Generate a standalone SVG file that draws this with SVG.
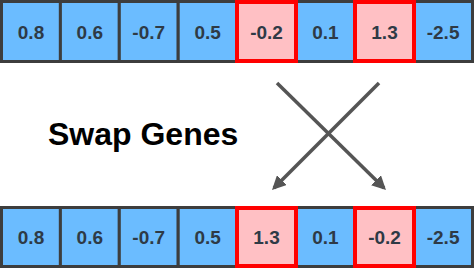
<svg xmlns="http://www.w3.org/2000/svg" width="474" height="269" viewBox="0 0 474 269">
<style>
.c{fill:#6bbcff;stroke:#3d3d3d;stroke-width:3}
.r{fill:#ffc0c4;stroke:#ff0000;stroke-width:4}
.t{font-family:"Liberation Sans",Arial,sans-serif;font-weight:bold;font-size:19px;fill:#2e3a46;text-anchor:middle}
.lbl{font-family:"Liberation Sans",Arial,sans-serif;font-weight:bold;font-size:32px;fill:#000}
.a{stroke:#555;stroke-width:3.5;fill:none}
</style>
<defs>
<marker id="ah" viewBox="0 0 10 10" refX="8" refY="5" markerWidth="4" markerHeight="4" orient="auto" markerUnits="strokeWidth">
<path d="M0,0 L10,5 L0,10 z" fill="#555"/>
</marker>
</defs>
<g id="top-row">
<g id="t0"><rect class="c" x="1.5" y="1.5" width="58.9" height="60"/><text class="t" x="31" y="38.5">0.8</text></g>
<g id="t1"><rect class="c" x="60.4" y="1.5" width="58.9" height="60"/><text class="t" x="89.8" y="38.5">0.6</text></g>
<g id="t2"><rect class="c" x="119.3" y="1.5" width="58.9" height="60"/><text class="t" x="148.7" y="38.5">-0.7</text></g>
<g id="t3"><rect class="c" x="178.2" y="1.5" width="58.9" height="60"/><text class="t" x="207.6" y="38.5">0.5</text></g>
<g id="t5"><rect class="c" x="296" y="1.5" width="58.9" height="60"/><text class="t" x="325.4" y="38.5">0.1</text></g>
<g id="t7"><rect class="c" x="413.8" y="1.5" width="58.7" height="60"/><text class="t" x="443.1" y="38.5">-2.5</text></g>
<g id="t4"><rect class="r" x="237" y="2" width="59" height="59"/><text class="t" x="266.5" y="38.5">-0.2</text></g>
<g id="t6"><rect class="r" x="355" y="2" width="59" height="59"/><text class="t" x="384.5" y="38.5">1.3</text></g>
</g>
<g id="bottom-row">
<g id="b0"><rect class="c" x="1.5" y="207.5" width="58.9" height="59"/><text class="t" x="31" y="244">0.8</text></g>
<g id="b1"><rect class="c" x="60.4" y="207.5" width="58.9" height="59"/><text class="t" x="89.8" y="244">0.6</text></g>
<g id="b2"><rect class="c" x="119.3" y="207.5" width="58.9" height="59"/><text class="t" x="148.7" y="244">-0.7</text></g>
<g id="b3"><rect class="c" x="178.2" y="207.5" width="58.9" height="59"/><text class="t" x="207.6" y="244">0.5</text></g>
<g id="b5"><rect class="c" x="296" y="207.5" width="58.9" height="59"/><text class="t" x="325.4" y="244">0.1</text></g>
<g id="b7"><rect class="c" x="413.8" y="207.5" width="58.7" height="59"/><text class="t" x="443.1" y="244">-2.5</text></g>
<g id="b4"><rect class="r" x="237" y="208" width="59" height="58"/><text class="t" x="266.5" y="244">1.3</text></g>
<g id="b6"><rect class="r" x="355" y="208" width="59" height="58"/><text class="t" x="384.5" y="244">-0.2</text></g>
</g>
<g id="label"><text class="lbl" x="48" y="145">Swap Genes</text></g>
<g id="connectors">
<line class="a" x1="277" y1="83" x2="384" y2="188" marker-end="url(#ah)"/>
<line class="a" x1="379" y1="83" x2="274" y2="188" marker-end="url(#ah)"/>
</g>
</svg>
